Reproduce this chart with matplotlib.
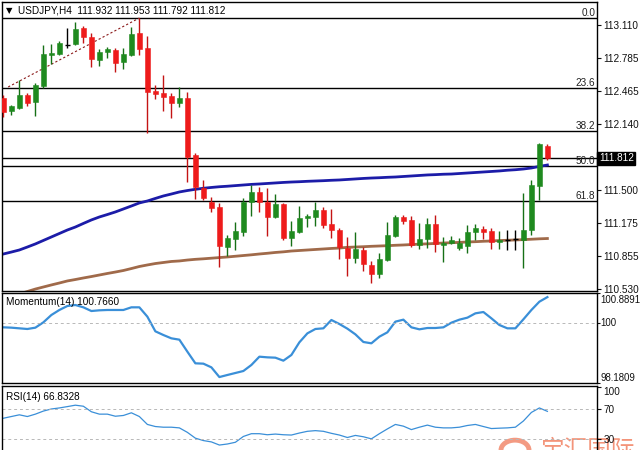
import numpy as np
import matplotlib
matplotlib.use("Agg")
import matplotlib.pyplot as plt
from matplotlib.patches import Circle

plt.rcParams['font.family'] = ['Liberation Sans', 'DejaVu Sans']

# USDJPY H4 candles
opens = [112.395, 112.274, 112.303, 112.427, 112.356, 112.515, 112.820, 112.827, 112.915, 112.922,
         113.078, 112.990, 112.769, 112.850, 112.866, 112.752, 112.817, 113.035, 112.883, 112.466,
         112.447, 112.417, 112.352, 112.401, 111.842, 111.517, 111.386, 111.331, 110.947, 111.022,
         111.093, 111.386, 111.484, 111.386, 111.234, 111.364, 111.035, 111.093, 111.224, 111.240,
         111.305, 111.168, 111.110, 110.937, 110.834, 110.915, 110.769, 110.678, 110.817, 111.054,
         111.234, 111.208, 110.964, 111.019, 111.166, 110.964, 110.986, 110.931, 110.957, 111.088,
         111.120, 111.100, 110.990, 111.012, 111.018, 111.008, 111.110, 111.544, 111.932]
highs = [112.427, 112.330, 112.573, 112.444, 112.541, 112.915, 112.922, 112.954, 113.078, 113.142,
         113.103, 113.029, 112.876, 112.898, 112.883, 112.883, 113.090, 113.178, 113.003, 112.520,
         112.622, 112.447, 112.502, 112.459, 111.864, 111.598, 111.435, 111.376, 111.061, 111.185,
         111.425, 111.549, 111.532, 111.517, 111.458, 111.371, 111.200, 111.344, 111.266, 111.386,
         111.331, 111.312, 111.127, 111.045, 111.093, 110.941, 110.808, 110.883, 111.185, 111.256,
         111.256, 111.247, 111.175, 111.230, 111.256, 111.045, 111.054, 111.029, 111.159, 111.166,
         111.152, 111.132, 111.100, 111.110, 111.110, 111.471, 111.598, 111.956, 111.953]
lows = [112.215, 112.232, 112.290, 112.323, 112.225, 112.498, 112.727, 112.817, 112.883, 112.915,
        112.931, 112.703, 112.713, 112.785, 112.647, 112.676, 112.810, 112.817, 112.053, 112.383,
        112.271, 112.203, 112.313, 111.581, 111.410, 111.403, 111.289, 110.752, 110.860, 110.915,
        111.054, 111.250, 111.289, 111.054, 111.224, 111.012, 110.957, 111.078, 111.142, 111.152,
        111.127, 111.035, 110.824, 110.664, 110.785, 110.710, 110.590, 110.645, 110.810, 111.045,
        111.166, 110.947, 110.925, 110.932, 110.898, 110.795, 110.970, 110.915, 110.883, 111.012,
        111.022, 110.925, 110.925, 110.915, 110.915, 110.744, 111.061, 111.403, 111.792]
closes = [112.264, 112.320, 112.427, 112.352, 112.525, 112.824, 112.837, 112.931, 112.915, 113.071,
          112.996, 112.775, 112.844, 112.873, 112.736, 112.824, 113.025, 112.876, 112.459, 112.437,
          112.408, 112.352, 112.398, 111.819, 111.527, 111.425, 111.328, 110.954, 111.035, 111.100,
          111.386, 111.484, 111.380, 111.234, 111.364, 111.035, 111.100, 111.230, 111.247, 111.305,
          111.159, 111.110, 110.941, 110.834, 110.925, 110.775, 110.678, 110.824, 111.061, 111.234,
          111.200, 110.964, 111.022, 111.166, 110.971, 110.980, 111.012, 110.980, 111.093, 111.132,
          111.093, 110.996, 111.012, 111.012, 111.018, 111.110, 111.549, 111.949, 111.812]

ma_blue = [110.876, 110.895, 110.915, 110.944, 110.974, 111.008, 111.042, 111.076, 111.110, 111.139,
           111.174, 111.208, 111.237, 111.261, 111.286, 111.315, 111.344, 111.374, 111.393, 111.418,
           111.442, 111.461, 111.481, 111.495, 111.507, 111.517, 111.525, 111.532, 111.537, 111.543,
           111.549, 111.555, 111.559, 111.564, 111.569, 111.574, 111.578, 111.581, 111.585, 111.588,
           111.591, 111.595, 111.598, 111.603, 111.608, 111.613, 111.617, 111.620, 111.624, 111.627,
           111.632, 111.637, 111.642, 111.647, 111.650, 111.654, 111.656, 111.661, 111.666, 111.671,
           111.676, 111.681, 111.686, 111.693, 111.698, 111.705, 111.715, 111.730, 111.744]
ma_brown = [110.437, 110.461, 110.486, 110.510, 110.534, 110.554, 110.574, 110.593, 110.613, 110.627,
            110.642, 110.656, 110.671, 110.686, 110.700, 110.715, 110.734, 110.754, 110.769, 110.783,
            110.793, 110.803, 110.808, 110.817, 110.824, 110.829, 110.835, 110.841, 110.847, 110.854,
            110.861, 110.868, 110.876, 110.883, 110.891, 110.897, 110.905, 110.910, 110.915, 110.920,
            110.925, 110.930, 110.934, 110.941, 110.944, 110.947, 110.951, 110.954, 110.957, 110.961,
            110.964, 110.968, 110.972, 110.975, 110.979, 110.983, 110.986, 110.989, 110.993, 110.996,
            111.000, 111.003, 111.007, 111.010, 111.013, 111.016, 111.020, 111.024, 111.027]

momentum = [99.856, 99.846, 99.826, 99.806, 99.846, 100.006, 100.227, 100.378, 100.498, 100.528,
            100.458, 100.347, 100.368, 100.378, 100.378, 100.378, 100.458, 100.458, 100.177, 99.736,
            99.625, 99.525, 99.485, 99.124, 98.773, 98.763, 98.652, 98.360, 98.422, 98.482,
            98.542, 98.723, 98.973, 98.953, 98.943, 98.853, 99.024, 99.405, 99.675, 99.806,
            99.826, 100.077, 99.956, 99.816, 99.645, 99.415, 99.375, 99.575, 99.706, 100.027,
            100.087, 99.856, 99.796, 99.836, 99.836, 99.856, 99.996, 100.087, 100.147, 100.277,
            100.317, 100.127, 99.926, 99.826, 99.826, 100.097, 100.378, 100.628, 100.766]
rsi = [57.6, 59.9, 62.2, 59.9, 63.1, 67.2, 70.0, 71.4, 73.2, 75.1,
       73.7, 66.3, 63.1, 63.1, 60.3, 61.3, 64.9, 59.9, 49.3, 46.5,
       45.6, 45.6, 44.7, 38.7, 30.9, 27.7, 25.9, 21.7, 23.1, 25.4,
       33.2, 36.9, 36.9, 35.5, 36.4, 35.5, 35.1, 37.8, 40.1, 41.0,
       40.1, 37.4, 35.1, 31.8, 34.6, 32.8, 30.0, 36.9, 43.3, 49.3,
       47.0, 42.4, 45.6, 48.4, 45.6, 44.7, 44.7, 45.6, 47.9, 49.3,
       46.5, 43.8, 44.3, 44.7, 45.6, 53.9, 65.4, 71.4, 66.83]

fib_high = 113.178
fib_low = 110.290
fib_levels = [0.0, 23.6, 38.2, 50.0, 61.8]
trend_pts = [(0.6, 112.505), (17.0, 113.178)]
last_price = 111.812
price_ticks = [113.110, 112.785, 112.465, 112.140, 111.500, 111.175, 110.855, 110.530]
mom_ticks = [100.8891, 100, 98.1809]

W, H = 640, 450
fig = plt.figure(figsize=(6.4, 4.5), dpi=100)

def box(x0, y0, x1, y1):
    return [x0 / W, 1 - y1 / H, (x1 - x0) / W, (y1 - y0) / H]

ax = fig.add_axes(box(2, 2, 597, 291))
axm = fig.add_axes(box(2, 293, 597, 383))
axr = fig.add_axes(box(2, 386, 597, 454))

xlim = (-0.17, 74.2)
fs = 7.2
green, red = '#1f8a1f', '#ee1b1b'

x = np.arange(len(opens))
o, h, l, c = map(np.array, (opens, highs, lows, closes))
up = c > o + 0.0005
dn = c < o - 0.0005
flat = ~(up | dn)

ax.vlines(x[up], l[up], h[up], color='#167016', lw=1.0, zorder=3)
ax.vlines(x[dn], l[dn], h[dn], color='#c41414', lw=1.0, zorder=3)
ax.vlines(x[flat], l[flat], h[flat], color='black', lw=1.0, zorder=3)
ax.bar(x[up], (c - o)[up], bottom=o[up], width=0.62, color=green, edgecolor=green, lw=0.4, zorder=4)
ax.bar(x[dn], (o - c)[dn], bottom=c[dn], width=0.62, color=red, edgecolor=red, lw=0.4, zorder=4)
ax.hlines(c[flat], x[flat] - 0.31, x[flat] + 0.31, color='black', lw=1.0, zorder=4)

ax.plot(x, ma_blue, color='#1c1ca8', lw=2.0, zorder=2)
ax.plot(x, ma_brown, color='#a06a4a', lw=2.0, zorder=2)

# fibonacci retracement
for lv in fib_levels:
    p = fib_high - (fib_high - fib_low) * lv / 100
    ax.axhline(p, color='black', lw=1.0, zorder=1)
    ax.text(0.997, p, '%.1f' % lv, transform=ax.get_yaxis_transform(), ha='right', va='bottom',
            fontsize=fs, color='#222222')
ax.plot([trend_pts[0][0], trend_pts[1][0]], [trend_pts[0][1], trend_pts[1][1]],
        color='#8b1a1a', lw=0.8, dashes=(2, 2), zorder=2)
ax.axhline(last_price, color='black', lw=1.0, zorder=1)

ax.set_xlim(*xlim)
ax.set_ylim(110.515, 113.334)
ax.set_yticks(price_ticks)
ax.set_yticklabels(['%.3f' % v for v in price_ticks])
ax.text(1.003, last_price, '%.3f' % last_price, transform=ax.get_yaxis_transform(), ha='left',
        va='center', fontsize=fs, color='white', clip_on=False,
        bbox=dict(boxstyle='square,pad=0.15', fc='black', ec='black'))
ax.text(0.006, 0.972, '\u25bc', transform=ax.transAxes, fontsize=6, va='center', family='DejaVu Sans')
ax.text(0.027, 0.972, 'USDJPY,H4  111.932 111.953 111.792 111.812', transform=ax.transAxes,
        fontsize=fs, va='center')

# momentum
axm.plot(x, momentum, color='#3a8fd8', lw=1.6)
axm.axhline(100, color='#b8b8b8', lw=0.7, dashes=(3, 3))
axm.set_xlim(*xlim)
axm.set_ylim(98.1809, 100.8891)
axm.set_yticks(mom_ticks)
axm.set_yticklabels([])
# labels sit inside the window the way the terminal draws them
mom_label_pos = [100.68, 100, 98.33]
for v, pos in zip(mom_ticks, mom_label_pos):
    axm.text(1.006, pos, ('%.4f' % v).rstrip('0').rstrip('.'), transform=axm.get_yaxis_transform(),
             ha='left', va='center', fontsize=6.9, color='#111111', clip_on=False)
axm.text(0.006, 0.9, 'Momentum(14) 100.7660', transform=axm.transAxes, fontsize=fs, va='center')

# rsi
axr.plot(x, rsi, color='#3a8fd8', lw=0.9)
for lv in (70, 30):
    axr.axhline(lv, color='#b8b8b8', lw=0.7, dashes=(3, 3))
axr.set_xlim(*xlim)
axr.set_ylim(9.7, 100.8)
axr.set_yticks([100, 70, 30])
axr.set_yticklabels(['100', '70', '30'])
axr.text(0.006, 0.84, 'RSI(14) 66.8328', transform=axr.transAxes, fontsize=fs, va='center')
axr.spines['bottom'].set_visible(False)

for a in (ax, axm, axr):
    a.yaxis.tick_right()
    a.tick_params(axis='y', length=3, width=0.8, pad=1.5, labelsize=fs, colors='#111111')
    a.set_xticks([])
    for s in a.spines.values():
        s.set_linewidth(1.0)
axm.tick_params(axis='y', length=2)
axr.yaxis.get_major_ticks()[0].label2.set_va('top')

# watermark, drawn under the axis labels
wm = '#f2896c'
logo = Circle((515 / W, 1 - 450 / H), 14 / W, transform=fig.transFigure, fill=False,
              ec=wm, lw=3.5, alpha=0.85, clip_on=False, zorder=0.5)
axr.add_artist(logo)
axr.text(540 / W, 1 - 457 / H, '宝汇国际', transform=fig.transFigure, fontsize=17, color=wm,
         alpha=0.9, family=['Noto Sans CJK SC', 'DejaVu Sans'], weight='medium', va='baseline',
         clip_on=False, zorder=0.5)

fig.savefig('out.png', dpi=100)
